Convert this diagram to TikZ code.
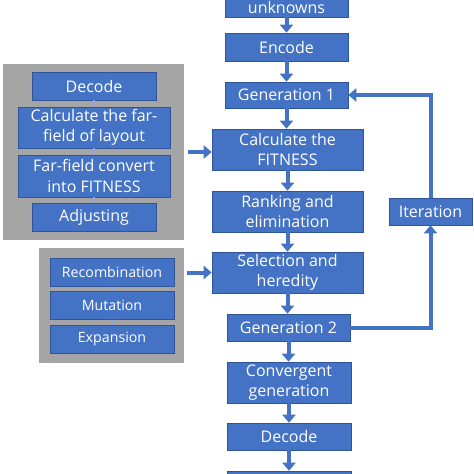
\documentclass[tikz,border=0pt]{standalone}
\usepackage{fontspec}
\setmainfont{Open Sans}
\usetikzlibrary{arrows.meta}
\definecolor{bfill}{HTML}{4472C4}
\definecolor{bdraw}{HTML}{2F5597}
\definecolor{pgray}{HTML}{A5A5A5}
\definecolor{tinyc}{HTML}{8FAADC}
\begin{document}
\begin{tikzpicture}[x=1pt,y=-1pt,
  box/.style={draw=bdraw,line width=0.6pt,fill=bfill,text=white,inner sep=0pt,
    align=center,font=\fontsize{16}{20.5}\selectfont},
  smallbox/.style={box,font=\fontsize{14.2}{18}\selectfont},
  panel/.style={fill=pgray,inner sep=0pt},
  flow/.style={draw=bfill,line width=4pt,-{Triangle[length=8pt,width=13pt]}},
  tinyarr/.style={draw=tinyc,line width=1.5pt,-{Triangle[length=3pt,width=5pt]}}]
\useasboundingbox (0,0) rectangle (474,474);
% main column
\node[box,minimum width=123pt,minimum height=27pt] (unk) at (286.5,3.5) {};
\node[text=white,inner sep=0pt,font=\fontsize{16}{20.5}\selectfont,anchor=base] (unkt) at (286.5,13) {unknowns};
\node[box,minimum width=123pt,minimum height=28pt] (enc) at (286.5,47) {Encode};
\node[box,minimum width=123pt,minimum height=26pt] (gen1) at (286.5,95) {Generation 1};
\node[box,minimum width=151pt,minimum height=41pt] (fit) at (287.5,149.5) {Calculate the\\FITNESS};
\node[box,minimum width=151pt,minimum height=41pt] (rank) at (287.5,211.5) {Ranking and\\elimination};
\node[box,minimum width=151pt,minimum height=41pt] (sel) at (287.5,272.5) {Selection and\\heredity};
\node[box,minimum width=123pt,minimum height=27pt] (gen2) at (288.5,327.5) {Generation 2};
\node[box,minimum width=83pt,minimum height=27pt] (iter) at (430.5,211.5) {Iteration};
\node[box,minimum width=124pt,minimum height=41pt] (conv) at (289,382.5) {Convergent\\generation};
\node[box,minimum width=124pt,minimum height=27pt] (dec) at (289,436.5) {Decode};
\node[box,minimum width=124pt,minimum height=30pt] (last) at (289,486) {};
% main arrows
\draw[flow] (unk.south) -- (unk.south |- enc.north);
\draw[flow] (enc.south) -- (enc.south |- gen1.north);
\draw[flow] (gen1.south) -- (gen1.south |- fit.north);
\draw[flow] (fit.south) -- (fit.south |- rank.north);
\draw[flow] (rank.south) -- (rank.south |- sel.north);
\draw[flow] (sel.south) -- (sel.south |- gen2.north);
\draw[flow] (gen2.south) -- (gen2.south |- conv.north);
\draw[flow] (conv.south) -- (conv.south |- dec.north);
\draw[flow] (dec.south) -- (dec.south |- last.north);
% iteration loop
\draw[flow] (gen2.east) -| (iter.south);
\draw[flow] (iter.north) |- (gen1.east);
% panel A
\node[panel,minimum width=181pt,minimum height=176pt] (pA) at (93.5,152) {};
\node[box,minimum width=124pt,minimum height=28pt] (dA) at (94,86) {Decode};
\node[box,minimum width=152pt,minimum height=41pt] (cA) at (94,127.5) {Calculate the far-\\field of layout};
\node[box,minimum width=152pt,minimum height=42pt] (fA) at (94,176) {Far-field convert\\into FITNESS};
\node[box,minimum width=124pt,minimum height=28pt] (aA) at (94,217) {Adjusting};
\draw[tinyarr] (dA.south) -- (dA.south |- cA.north);
\draw[tinyarr] (cA.south) -- (cA.south |- fA.north);
\draw[tinyarr] (fA.south) -- (fA.south |- aA.north);
\draw[flow] ([xshift=4pt]pA.east) -- (fit.west |- pA.east);
% panel B
\node[panel,minimum width=145pt,minimum height=115pt] (pB) at (111.5,305.5) {};
\node[smallbox,minimum width=124pt,minimum height=28pt] (rB) at (112,272) {Recombination};
\node[smallbox,minimum width=124pt,minimum height=28pt] (mB) at (112,305) {Mutation};
\node[smallbox,minimum width=124pt,minimum height=28pt] (eB) at (112,339) {Expansion};
\draw[tinyarr] (eB.north) -- (eB.north |- mB.south);
\draw[tinyarr] (mB.north) -- (mB.north |- rB.south);
\draw[flow] ([xshift=3pt]pB.east |- sel.west) -- (sel.west);
\end{tikzpicture}
\end{document}
